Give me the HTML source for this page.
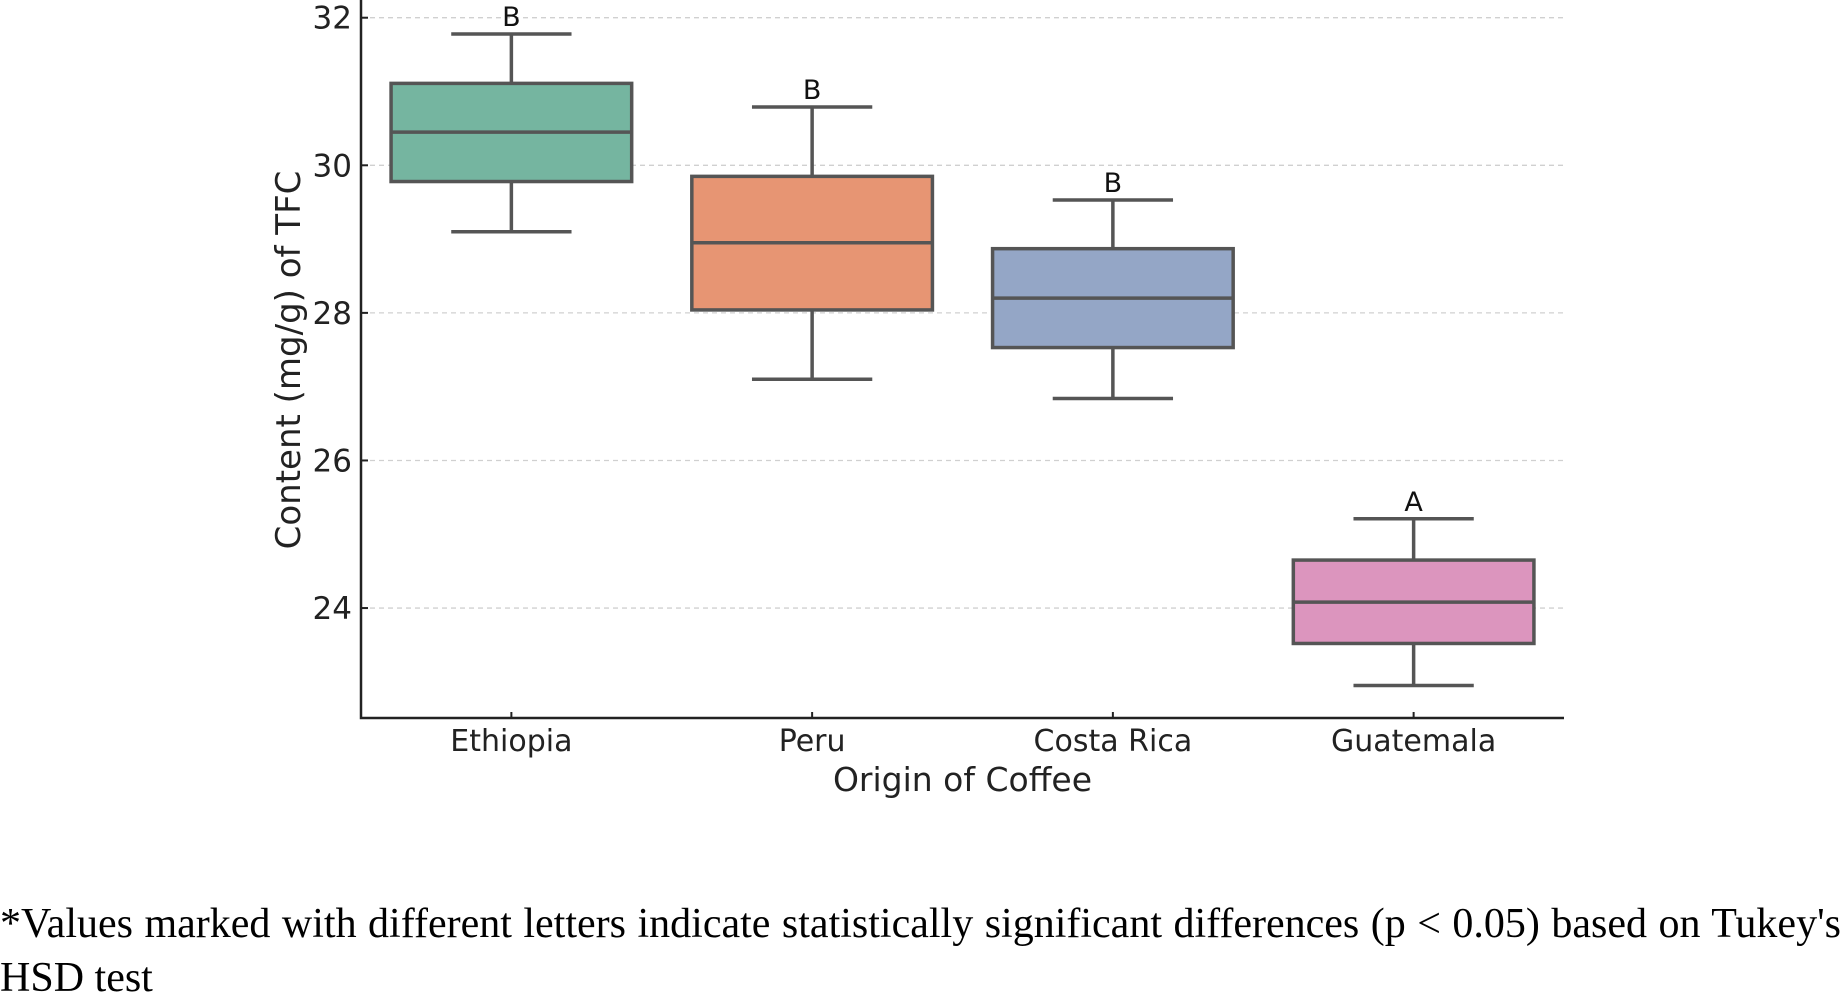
<!DOCTYPE html>
<html><head><meta charset="utf-8"><style>
body{margin:0;background:#fff;width:1841px;height:992px;overflow:hidden;position:relative}
svg{position:absolute;left:0;top:0}
#note{position:absolute;left:0;top:897px;width:1841px;font-family:"Liberation Serif",serif;font-size:42px;line-height:54px;color:#000}
#note .l1{display:block;text-align:justify;text-align-last:justify;white-space:nowrap}
</style></head><body>
<svg id="chart" width="1841" height="880" xmlns="http://www.w3.org/2000/svg"></svg>
<div id="note"><span class="l1">*Values marked with different letters indicate statistically significant differences (p &lt; 0.05) based on Tukey's</span>HSD test</div>
<script>
const categories=["Ethiopia","Peru","Costa Rica","Guatemala"];
const whiskLow=[29.1,27.1,26.84,22.95];
const q1=[29.78,28.04,27.53,23.52];
const median=[30.45,28.95,28.2,24.08];
const q3=[31.11,29.85,28.87,24.65];
const whiskHigh=[31.78,30.79,29.53,25.21];
const letters=["B","B","B","A"];
const yTicks=[24,26,28,30,32];
const colors=["#75b5a0","#e79573","#94a6c6","#dc95be"];

const svg=document.getElementById('chart');
const NS="http://www.w3.org/2000/svg";
const L=361,R=1564,B=718,yMin=22.51,yMax=32.24;
const y=v=>B-(v-yMin)/(yMax-yMin)*B;
const step=(R-L)/categories.length;
const x=i=>L+step*(i+0.5);
function mk(tag,attrs,parent){const e=document.createElementNS(NS,tag);for(const k in attrs)e.setAttribute(k,attrs[k]);(parent||svg).appendChild(e);return e;}
const font='"DejaVu Sans","Liberation Sans",sans-serif';
yTicks.forEach(t=>{
  const g=mk('line',{x1:L,x2:R,y1:y(t),y2:y(t),stroke:'#d0d0d0','stroke-width':1.3,'stroke-dasharray':'5,4'});
  
  
  const tk=mk('line',{x1:L,x2:L+7,y1:y(t),y2:y(t),stroke:'#222','stroke-width':2});
  
  
  const tl=mk('text',{x:352,y:y(t)+11,'text-anchor':'end','font-family':font,'font-size':31,fill:'#222'});
  tl.textContent=t;
  
  
});
const bw=step*0.8;
categories.forEach((c,i)=>{
  const cx=x(i);
  const g=mk('g',{});
  
  
  const st={stroke:'#555','stroke-width':3.5};
  mk('line',Object.assign({x1:cx,x2:cx,y1:y(whiskHigh[i]),y2:y(q3[i])},st),g);
  mk('line',Object.assign({x1:cx,x2:cx,y1:y(q1[i]),y2:y(whiskLow[i])},st),g);
  mk('line',Object.assign({x1:cx-bw/4,x2:cx+bw/4,y1:y(whiskHigh[i]),y2:y(whiskHigh[i])},st),g);
  mk('line',Object.assign({x1:cx-bw/4,x2:cx+bw/4,y1:y(whiskLow[i]),y2:y(whiskLow[i])},st),g);
  mk('rect',Object.assign({x:cx-bw/2,y:y(q3[i]),width:bw,height:y(q1[i])-y(q3[i]),fill:colors[i]},st),g);
  mk('line',Object.assign({x1:cx-bw/2,x2:cx+bw/2,y1:y(median[i]),y2:y(median[i])},st),g);
  const lt=mk('text',{x:cx,y:y(whiskHigh[i])-8,'text-anchor':'middle','font-family':font,'font-size':27,fill:'#111'});
  lt.textContent=letters[i];
  
  
  const xt=mk('line',{x1:cx,x2:cx,y1:B,y2:B-6,stroke:'#222','stroke-width':2});
  
  
  const xl=mk('text',{x:cx,y:751,'text-anchor':'middle','font-family':font,'font-size':30,fill:'#222'});
  xl.textContent=c;
  
  
});
const ax=mk('path',{d:`M${L} 0 V${B} H${R}`,fill:'none',stroke:'#222','stroke-width':2.5});


const xt=mk('text',{x:(L+R)/2,y:791,'text-anchor':'middle','font-family':font,'font-size':33,fill:'#222'});
xt.textContent='Origin of Coffee';


const yt=mk('text',{x:0,y:0,'text-anchor':'middle','font-family':font,'font-size':34,fill:'#222',transform:'translate(300,360) rotate(-90)'});
yt.textContent='Content (mg/g) of TFC';


</script>
</body></html>
